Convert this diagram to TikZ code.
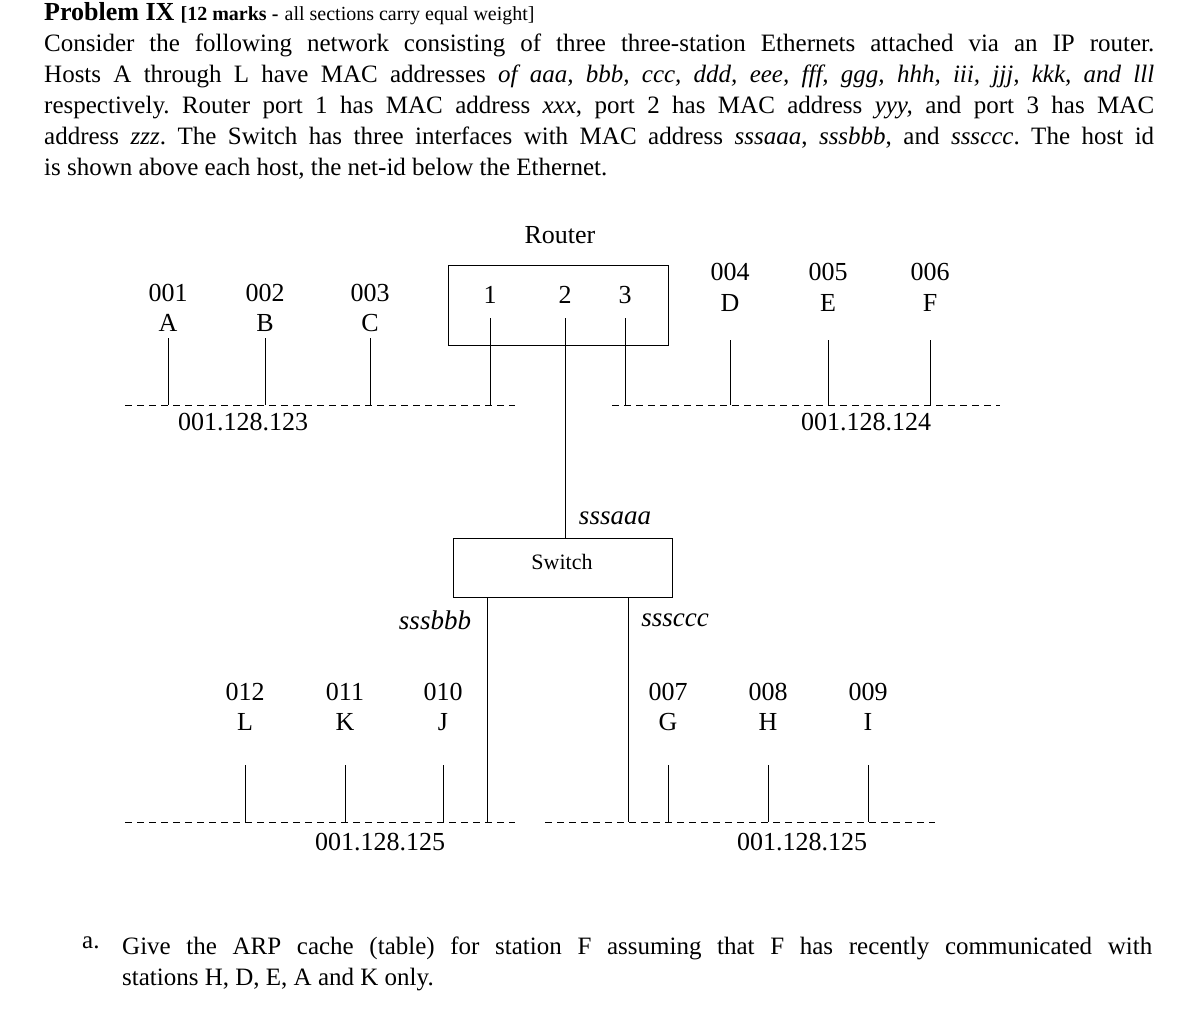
\documentclass[tikz,border=0pt]{standalone}
\usepackage{fontspec}
\setmainfont{Liberation Serif}
\frenchspacing
\newcommand\jline[2]{\hbox to #1{\spaceskip=0.25em plus 1em minus 0.12em #2}}
\begin{document}
\begin{tikzpicture}[x=1pt,y=-1pt,
  lbl/.style={font=\fontsize{26}{28}\selectfont,inner sep=0pt},
  net/.style={dashed,dash pattern=on 7pt off 5pt,line width=0.8pt},
  wire/.style={line width=0.8pt},
  box/.style={draw,line width=1pt}]
\useasboundingbox (0,0) rectangle (1204,1014);
\node[anchor=north west,align=left,inner sep=0pt,font=\fontsize{25}{31}\selectfont] (para) at (44,2)
{{\fontsize{26}{31}\selectfont\bfseries Problem IX} {\fontsize{20}{31}\selectfont\bfseries [12 marks -} {\fontsize{20}{31}\selectfont all sections carry equal weight]}\\
\jline{1110pt}{Consider the following network consisting of three three-station Ethernets attached via an IP router.}\\
\jline{1110pt}{Hosts A through L have MAC addresses \textit{of aaa, bbb, ccc, ddd, eee, fff, ggg, hhh, iii, jjj, kkk, and lll}}\\
\jline{1110pt}{respectively. Router port 1 has MAC address \textit{xxx}, port 2 has MAC address \textit{yyy,} and port 3 has MAC}\\
\jline{1110pt}{address \textit{zzz}. The Switch has three interfaces with MAC address \textit{sssaaa}, \textit{sssbbb}, and \textit{sssccc}. The host id}\\
is shown above each host, the net-id below the Ethernet.};
% router
\node[box,minimum width=220pt,minimum height=80pt,anchor=north west] (router) at (448,265) {};
\node[lbl] (rl) at (560,235) {Router};
\node[lbl] (p1) at (490,295) {1};
\node[lbl] (p2) at (565,295) {2};
\node[lbl] (p3) at (625,295) {3};
% switch
\node[box,minimum width=219pt,minimum height=59pt,anchor=north west] (switch) at (453,538) {};
\node[font=\fontsize{22}{24}\selectfont,inner sep=0pt] (sl) at (562,562) {Switch};
\node[lbl,font=\itshape\fontsize{27}{28}\selectfont] (sa) at (615,518) {sssaaa};
\node[lbl,font=\itshape\fontsize{27}{28}\selectfont] (sb) at (435,620) {sssbbb};
\node[lbl,font=\itshape\fontsize{27}{28}\selectfont] (sc) at (675,620) {sssccc};
% ethernets
\coordinate (e1a) at (125,405); \coordinate (e1b) at (515,405);
\coordinate (e2a) at (612,405); \coordinate (e2b) at (1000,405);
\coordinate (e3a) at (125,822); \coordinate (e3b) at (515,822);
\coordinate (e4a) at (545,822); \coordinate (e4b) at (935,822);
\draw[net] (e1a) -- (e1b); \draw[net] (e2a) -- (e2b);
\draw[net] (e3a) -- (e3b); \draw[net] (e4a) -- (e4b);
\node[lbl] (n1) at (243,422) {001.128.123};
\node[lbl] (n2) at (866,422) {001.128.124};
\node[lbl] (n3) at (380,842) {001.128.125};
\node[lbl] (n4) at (802,842) {001.128.125};
% router port wires
\draw[wire] (490,318) -- (490,405);
\draw[wire] (625,318) -- (625,405);
\draw[wire] (565,318) -- (switch.north -| 565,0);
% switch wires
\draw[wire] (switch.south -| 487,0) -- (487,822);
\draw[wire] (switch.south -| 628,0) -- (628,822);
% hosts
\foreach \x/\id/\n/\ya/\yb/\ys/\ye in {168/001/A/293/323/338/405, 265/002/B/293/323/338/405, 370/003/C/293/323/338/405,
  730/004/D/272/303/340/405, 828/005/E/272/303/340/405, 930/006/F/272/303/340/405,
  245/012/L/692/722/765/822, 345/011/K/692/722/765/822, 443/010/J/692/722/765/822,
  668/007/G/692/722/765/822, 768/008/H/692/722/765/822, 868/009/I/692/722/765/822}{
  \node[lbl] (id\n) at (\x,\ya) {\id};
  \node[lbl] (h\n) at (\x,\yb) {\n};
  \draw[wire] (\x,\ys) -- (\x,\ye);
}
% question
\node[anchor=north west,inner sep=0pt,font=\fontsize{25}{31}\selectfont] (qa) at (82,937) {a.};
\node[anchor=north west,align=left,inner sep=0pt,font=\fontsize{25}{31}\selectfont] (qt) at (122,937)
{\jline{1030pt}{Give the ARP cache (table) for station F assuming that F has recently communicated with}\\
stations H, D, E, A and K only.};
\end{tikzpicture}
\end{document}
